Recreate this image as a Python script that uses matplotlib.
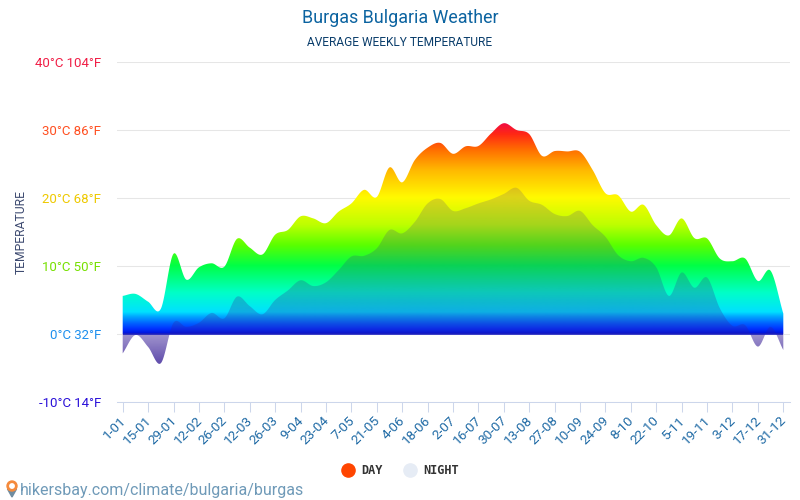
# -*- coding = utf-8 -*-
import numpy as np
import matplotlib
matplotlib.use("Agg")
from matplotlib import pyplot as plt
from matplotlib.lines import Line2D
from matplotlib.patches import Circle, Polygon
from matplotlib.transforms import ScaledTranslation

plt.rcParams['font.family'] = ['Roboto', 'DejaVu Sans']

# weekly values, degrees C
day_temps = [5.6, 5.9, 4.75, 3.7, 11.8, 8.0, 9.8, 10.4, 9.9, 14.0,
             12.7, 11.7, 14.6, 15.3, 17.3, 17.0, 16.3, 18.0, 19.2, 21.2,
             20.15, 24.5, 22.3, 25.6, 27.4, 28.1, 26.5, 27.6, 27.65, 29.5,
             31.0, 30.0, 29.4, 26.2, 26.9, 26.85, 26.8, 24.1, 20.7, 20.4,
             18.0, 19.0, 16.0, 14.5, 17.0, 14.1, 14.05, 11.1, 10.7, 11.1,
             7.8, 9.3, 3.0]
night_temps = [-2.85, -0.15, -1.9, -4.3, 1.65, 1.05, 1.65, 3.1, 2.3, 5.5,
               4.1, 2.9, 5.0, 6.4, 7.9, 7.05, 7.6, 9.4, 11.4, 11.5,
               12.6, 15.3, 14.8, 16.5, 19.2, 19.85, 18.1, 18.5, 19.2, 19.8,
               20.6, 21.5, 19.6, 19.0, 17.65, 17.35, 18.1, 16.0, 14.3, 11.6,
               10.7, 11.2, 9.8, 5.6, 9.05, 6.8, 8.3, 3.8, 1.2, 1.3,
               -1.85, 1.05, -2.35]
week_labels = ["1-01", "15-01", "29-01", "12-02", "26-02", "12-03", "26-03",
               "9-04", "23-04", "7-05", "21-05", "4-06", "18-06", "2-07",
               "16-07", "30-07", "13-08", "27-08", "10-09", "24-09", "8-10",
               "22-10", "5-11", "19-11", "3-12", "17-12", "31-12"]
y_ticks = [-10, 0, 10, 20, 30, 40]
y_labels = ["-10°C 14°F", "0°C 32°F", "10°C 50°F", "20°C 68°F", "30°C 86°F", "40°C 104°F"]
y_colors = ["#2a10d8", "#1e90ee", "#76e000", "#eec900", "#ff4f20", "#f01e46"]

W, H = 800, 500


def smooth(values):
    # cubic hermite through the weekly points
    y = np.array(values, dtype=float)
    m = np.gradient(y)
    xs, ys = [], []
    for i in range(len(y) - 1):
        t = np.linspace(0, 1, 20, endpoint=False)
        h00 = 2 * t**3 - 3 * t**2 + 1
        h10 = t**3 - 2 * t**2 + t
        h01 = -2 * t**3 + 3 * t**2
        h11 = t**3 - t**2
        xs.append(i + t)
        ys.append(h00 * y[i] + h10 * m[i] + h01 * y[i + 1] + h11 * m[i + 1])
    xs.append([len(y) - 1])
    ys.append([y[-1]])
    return np.concatenate(xs), np.concatenate(ys)


def gradient(stops, n=1000):
    # stops: (temperature, (r, g, b), alpha), top of the image is 40
    v = np.linspace(40, -10, n)
    t = [s[0] for s in stops]
    img = np.zeros((n, 1, 4))
    for c in range(3):
        img[:, 0, c] = np.interp(v, t, [s[1][c] / 255 for s in stops])
    img[:, 0, 3] = np.interp(v, t, [s[2] for s in stops])
    return img


day_stops = [(-10, (0, 0, 216), 1), (0, (0, 16, 216), 1), (0.7, (0, 48, 255), 1),
             (1.5, (0, 96, 255), 1), (2.5, (0, 165, 255), 1), (3.2, (0, 225, 255), 1),
             (6, (0, 255, 200), 1), (10, (0, 255, 70), 1), (13, (90, 255, 0), 1),
             (16, (190, 255, 0), 1), (20, (255, 250, 0), 1), (24, (255, 185, 0), 1),
             (27, (255, 110, 0), 1), (29.3, (255, 40, 20), 1), (31, (240, 10, 70), 1),
             (40, (240, 20, 80), 1)]
shade = (55, 30, 150)
night_stops = [(-10, shade, 1), (-4, shade, .77), (-1.5, shade, .58),
               (-0.01, shade, .47), (0.01, shade, .25), (5, shade, .26),
               (10, shade, .2), (21, shade, .17), (40, shade, .15)]

fig = plt.figure(figsize=(W / 100, H / 100), dpi=100, facecolor="white")
ax = fig.add_axes([117 / W, (H - 402) / H, (790 - 117) / W, (402 - 62) / H])

# first week sits at 122.7 px, last at 783.3 px
px_per_week = (783.3 - 122.7) / 52
xlim = ((117 - 122.7) / px_per_week, (790 - 122.7) / px_per_week)
extent = [xlim[0], xlim[1], -10, 40]

x_day, y_day = smooth(day_temps)
x_night, y_night = smooth(night_temps)

for xs, ys, stops, z in [(x_day, y_day, day_stops, 2), (x_night, y_night, night_stops, 3)]:
    area = ax.fill_between(xs, ys, 0, color="none")
    im = ax.imshow(gradient(stops), extent=extent, aspect="auto", zorder=z, interpolation="bilinear")
    im.set_clip_path(area.get_paths()[0], ax.transData)

ax.hlines(0, 0, len(day_temps) - 1, color="#1a1fc0", linewidth=1.2, zorder=4)

ax.set_xlim(xlim)
ax.set_ylim(-10, 40)
ax.set_axisbelow(True)
ax.grid(axis="y", color="#e6e6e6", linewidth=0.75)
for side in ["top", "left", "right"]:
    ax.spines[side].set_visible(False)
ax.spines["bottom"].set_color("#ccd6eb")
ax.spines["bottom"].set_linewidth(0.75)

ax.set_yticks(y_ticks)
ax.set_yticklabels(y_labels, fontsize=9.5)
for lab, col in zip(ax.get_yticklabels(), y_colors):
    lab.set_color(col)
ax.tick_params(axis="y", length=0, pad=11.5)

ax.set_xticks(np.arange(len(week_labels)) * 2)
ax.set_xticklabels(week_labels, fontsize=9.7, rotation=45, ha="right", rotation_mode="anchor", color="#1f6aa5")
ax.tick_params(axis="x", length=7, width=0.75, color="#ccd6eb", pad=1.5)
# labels sit a little to the left of their ticks
nudge = ScaledTranslation(-2.5 / 72, 0, fig.dpi_scale_trans)
for lab in ax.get_xticklabels():
    lab.set_transform(lab.get_transform() + nudge)

# titles
fig.text(400 / W, 1 - 18 / H, "Burgas Bulgaria Weather", fontsize=12.9, color="#0b63a0", ha="center", va="center")
fig.text(400 / W, 1 - 42 / H, "AVERAGE WEEKLY TEMPERATURE", fontsize=8.6, color="#0a3d6b", ha="center", va="center")
fig.text(21 / W, 1 - 232 / H, "TEMPERATURE", fontsize=8.7, color="#3d4a70", rotation=90, ha="center", va="center")

# legend
handles = [Line2D([], [], linestyle="none", marker="o", markersize=9.5, color="#ff4500"),
           Line2D([], [], linestyle="none", marker="o", markersize=9.5, color="#e6ecf5")]
fig.legend(handles, ["DAY", "NIGHT"], ncol=2, frameon=False, loc="center",
           bbox_to_anchor=(397.5 / W, 1 - 471 / H), handletextpad=0.1, columnspacing=1.3,
           prop={"family": "DejaVu Sans Mono", "weight": "bold", "size": 8.6}, labelcolor="#333333")

# footer with the little pin
fig.text(20 / W, 1 - 490 / H, "hikersbay.com/climate/bulgaria/burgas", fontsize=11.5, color="#6f9ab8", ha="left", va="center")
fig.add_artist(Polygon([(7.5, H - 489), (16.5, H - 489), (12, H - 497)], closed=True, color="#6f8ca0", transform=None))
fig.add_artist(Circle((12, H - 486), 5, color="#f58a3c", transform=None))
fig.add_artist(Circle((12, H - 486), 2.2, color="white", transform=None))

fig.savefig("out.png", dpi=100)
